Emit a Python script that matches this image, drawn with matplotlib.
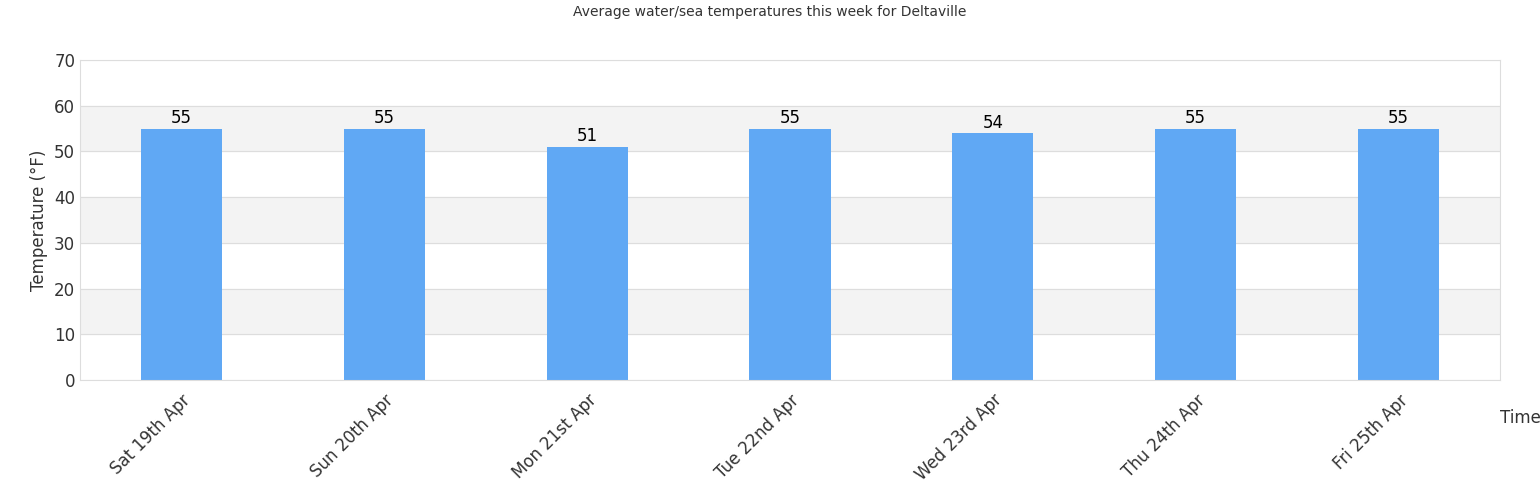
import matplotlib.pyplot as plt

days = ["Sat 19th Apr", "Sun 20th Apr", "Mon 21st Apr", "Tue 22nd Apr",
        "Wed 23rd Apr", "Thu 24th Apr", "Fri 25th Apr"]
temps = [55, 55, 51, 55, 54, 55, 55]
yticks = [0, 10, 20, 30, 40, 50, 60, 70]

fig = plt.figure(figsize=(15.4, 5), dpi=100)
ax = fig.add_axes([80/1540, 120/500, 1420/1540, 320/500])

# alternating bands
for lo in (10, 30, 50):
    ax.axhspan(lo, lo + 10, color="#f3f3f3", zorder=0)
for y in yticks:
    ax.axhline(y, color="#dddddd", lw=0.8, zorder=0.5)

x = range(len(days))
bars = ax.bar(x, temps, width=0.4, color="#60a8f4", zorder=2)
for xi, t in zip(x, temps):
    ax.text(xi, t + 0.3, str(t), ha="center", va="bottom", fontsize=12, zorder=3)

ax.set_xlim(-0.5, len(days) - 0.5)
ax.set_ylim(0, 70)
ax.set_yticks(yticks)
ax.set_xticks(list(x))
ax.set_xticklabels(days, rotation=45, ha="right", rotation_mode="anchor", fontsize=12, color="#333333")
ax.tick_params(axis="y", labelsize=12, colors="#333333", length=0)
ax.tick_params(axis="x", length=0, pad=8)
for s in ax.spines.values():
    s.set_color("#dddddd")
ax.set_ylabel("Temperature (°F)", fontsize=12, color="#333333")
fig.text(1500/1540, 1 - 418/500, "Time", ha="left", va="center", fontsize=12, color="#333333")
fig.text(0.5, 1 - 12/500, "Average water/sea temperatures this week for Deltaville",
         ha="center", va="center", fontsize=10, color="#333333")

fig.savefig("out.png")
